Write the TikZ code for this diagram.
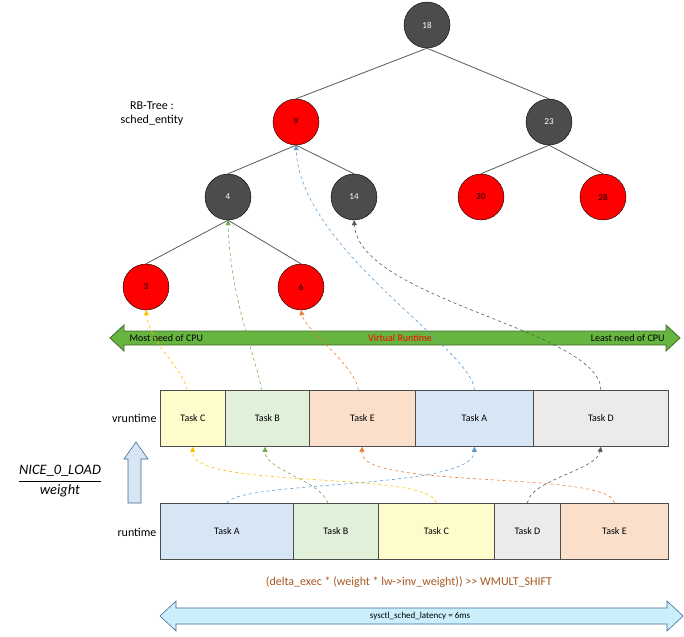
\documentclass[tikz,border=0pt]{standalone}
\usepackage{fontspec}
\setmainfont{Carlito}
\usetikzlibrary{arrows.meta}
\definecolor{cy}{HTML}{FFC000}\definecolor{cg}{HTML}{70AD47}\definecolor{co}{HTML}{ED7D31}
\definecolor{cb}{HTML}{5B9BD5}\definecolor{ck}{HTML}{595959}
\begin{document}
\begin{tikzpicture}[x=1pt,y=-1pt,
 bn/.style={circle,draw=black,fill=black!70,text=white,minimum size=46pt,inner sep=0,font=\small},
 rn/.style={circle,draw=black,fill=red,text=black,minimum size=46pt,inner sep=0,font=\small},
 ed/.style={draw=black!65,line width=0.8pt},
 tb/.style={draw=black!70,line width=0.8pt,minimum height=56pt,inner sep=0,anchor=north west},
 dl/.style={dashed,line width=0.6pt,-{Triangle[length=5pt,width=5pt]}}]
\useasboundingbox (0,0) rectangle (684,636);
\node[bn] (n18) at (427,25) {18};
\node[rn] (n9) at (296,122) {9};
\node[bn] (n23) at (549,122) {23};
\node[bn] (n4) at (228,197) {4};
\node[bn] (n14) at (354,197) {14};
\node[rn] (n20) at (481,197) {20};
\node[rn] (n28) at (603,197) {28};
\node[rn] (n3) at (146,287) {3};
\node[rn] (n6) at (301,287) {6};
\draw[ed] (n18.south) -- (n9.north) (n18.south) -- (n23.north)
 (n9.south) -- (n4.north) (n9.south) -- (n14.north)
 (n23.south) -- (n20.north) (n23.south) -- (n28.north)
 (n4.south) -- (n3.north) (n4.south) -- (n6.north);
\node[align=center,font=\large] (rb) at (152,114) {RB-Tree :\\sched\_entity};
% green arrow
\draw[draw=cg!60!black,fill=cg!90!green,line width=0.8pt]
 (110,338) -- (124,325) -- (124,331) -- (666,331) -- (666,325) -- (680,338) -- (666,351) -- (666,345) -- (124,345) -- (124,351) -- cycle;
\node[anchor=west] (mn) at (126,338) {Most need of CPU};
\node[text=red] (vr) at (400,338) {Virtual Runtime};
\node[anchor=east] (ln) at (668,338) {Least need of CPU};
% vruntime boxes
\node[tb,fill=yellow!20,minimum width=65pt] (vC) at (160,390) {Task C};
\node[tb,fill=green!10!cg!20,minimum width=84pt] (vB) at (225,390) {Task B};
\node[tb,fill=co!25,minimum width=106pt] (vE) at (309,390) {Task E};
\node[tb,fill=cb!25,minimum width=118pt] (vA) at (415,390) {Task A};
\node[tb,fill=black!8,minimum width=135pt] (vD) at (533,390) {Task D};
\node[anchor=east,font=\large] (vl) at (160,418) {vruntime};
% runtime boxes
\node[tb,fill=cb!25,minimum width=133pt] (rA) at (160,503) {Task A};
\node[tb,fill=green!10!cg!20,minimum width=85pt] (rB) at (293,503) {Task B};
\node[tb,fill=yellow!20,minimum width=116pt] (rC) at (378,503) {Task C};
\node[tb,fill=black!8,minimum width=66pt] (rD) at (494,503) {Task D};
\node[tb,fill=co!25,minimum width=108pt] (rE) at (560,503) {Task E};
\node[anchor=east,font=\large] (rl) at (160,532) {runtime};
% left arrow and fraction
\draw[draw=cb!70!black,fill=cb!25,line width=0.6pt]
 (136,442) -- (148,459) -- (141,459) -- (141,503) -- (128,503) -- (128,459) -- (124,459) -- cycle;
\node[font=\Large] (fr) at (60,481) {$\displaystyle\frac{\mathit{NICE\_0\_LOAD}}{\mathit{weight}}$};
\node[text=co!70!black,font=\large] (fm) at (409,582) {(delta\_exec * (weight * lw->inv\_weight)) {>}{>} WMULT\_SHIFT};
\draw[draw=cb!70!black,fill=cyan!20,line width=0.6pt]
 (160,616) -- (176,601) -- (176,608) -- (667,608) -- (667,601) -- (683,616) -- (667,631) -- (667,624) -- (176,624) -- (176,631) -- cycle;
\node[font=\small] (lt) at (420,616) {sysctl\_sched\_latency = 6ms};
% tree connectors
\draw[dl,cy] ([xshift=-6pt]vC.north) .. controls (185,370) and (150,345) .. (n3.south);
\draw[dl,cg] ([xshift=-6pt]vB.north) .. controls (260,370) and (230,300) .. (n4.south);
\draw[dl,co] ([xshift=-4pt]vE.north) .. controls (355,365) and (305,330) .. (n6.south);
\draw[dl,cb] (vA.north) .. controls (474,350) and (300,250) .. (n9.south);
\draw[dl,ck] (vD.north) .. controls (600,330) and (360,300) .. (n14.south);
% runtime connectors
\draw[dl,cb] (rA.north) .. controls (240,480) and (474,490) .. (vA.south);
\draw[dl,cg] ([xshift=-8pt]rB.north) .. controls (320,480) and (265,470) .. ([xshift=40pt]vB.south west);
\draw[dl,cy] (rC.north) .. controls (430,470) and (190,490) .. (vC.south);
\draw[dl,ck] (rD.north) .. controls (530,480) and (597,470) .. (vD.south);
\draw[dl,co] (rE.north) .. controls (610,470) and (357,490) .. (vE.south);
\end{tikzpicture}
\end{document}
